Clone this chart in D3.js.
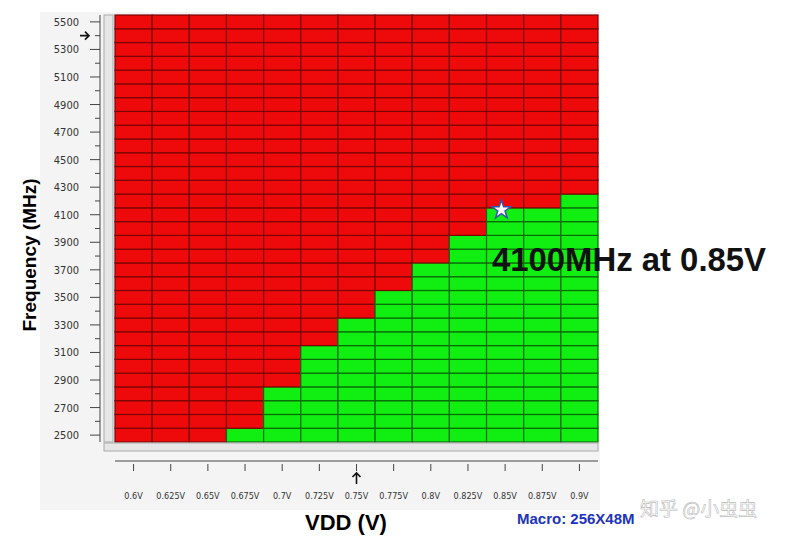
<!DOCTYPE html>
<html><head><meta charset="utf-8">
<script src="https://cdn.jsdelivr.net/npm/d3@7"></script>
<style>body{margin:0;background:#fff}</style></head>
<body><svg id="c" width="808" height="540"></svg>
<script>
const voltages=["0.6V","0.625V","0.65V","0.675V","0.7V","0.725V","0.75V","0.775V","0.8V","0.825V","0.85V","0.875V","0.9V"];
const passMax=[0,0,0,2500,2800,3100,3300,3500,3700,3900,4100,4100,4200];
const freqs=d3.range(2500,5501,100);
const yLabels=d3.range(2500,5501,200);

const svg=d3.select("#c");
svg.append("rect").attr("x",0).attr("y",0).attr("width",600).attr("height",510).attr("fill","#f4f4f4");
svg.append("rect").attr("x",0).attr("y",0).attr("width",808).attr("height",12).attr("fill","#fff");
svg.append("rect").attr("x",0).attr("y",0).attr("width",40).attr("height",540).attr("fill","#fff");
svg.append("rect").attr("x",0).attr("y",510).attr("width",808).attr("height",30).attr("fill","#fff");
const L=115,R=598,T=15,B=442;
const x=d3.scaleBand().domain(voltages).range([L,R]);
const y=d3.scaleBand().domain(freqs).range([B,T]);
const cells=[];
voltages.forEach((v,i)=>freqs.forEach(f=>cells.push({v,f,pass:f<=passMax[i]})));
svg.append("g").selectAll("rect").data(cells).join("rect")
 .attr("x",d=>x(d.v)).attr("y",d=>y(d.f)).attr("width",x.bandwidth()).attr("height",y.bandwidth())
 .attr("fill",d=>d.pass?"#11ee11":"#ee0a0a").attr("stroke",d=>d.pass?"#0a6a0a":"#7a0505").attr("stroke-width",1.2);
svg.append("rect").attr("x",104).attr("y",T).attr("width",9).attr("height",B-T).attr("fill","#e6e6e6").attr("stroke","#aaa");
svg.append("rect").attr("x",104).attr("y",B+1).attr("width",R-104).attr("height",8).attr("fill","#e6e6e6").attr("stroke","#aaa");
const ya=svg.append("g");
freqs.forEach(f=>{const yy=y(f)+y.bandwidth()/2;
 ya.append("line").attr("x1",yLabels.includes(f)?90:95).attr("x2",100).attr("y1",yy).attr("y2",yy).attr("stroke","#444");});
ya.append("line").attr("x1",100).attr("x2",100).attr("y1",T).attr("y2",B).attr("stroke","#444");
yLabels.forEach(f=>ya.append("text").attr("x",79).attr("y",y(f)+y.bandwidth()/2+4).attr("text-anchor","end")
 .attr("font-family","DejaVu Sans Condensed, DejaVu Sans").attr("font-size",11).attr("fill","#333").text(f));
svg.append("path").attr("d",`M80,${y(5400)+y.bandwidth()/2}h9m-4,-4l4,4l-4,4`).attr("fill","none").attr("stroke","#111").attr("stroke-width",1.6);
svg.append("text").attr("transform","translate(36,255) rotate(-90)").attr("text-anchor","middle")
 .attr("font-family","Liberation Sans, Arial").attr("font-weight","bold").attr("font-size",19).text("Frequency (MHz)");
const xa=svg.append("g");
xa.append("line").attr("x1",115).attr("x2",598).attr("y1",461).attr("y2",461).attr("stroke","#444");
voltages.forEach(v=>{const xx=x(v)+x.bandwidth()/2;
 xa.append("line").attr("x1",xx).attr("x2",xx).attr("y1",464).attr("y2",471).attr("stroke","#444");
 xa.append("text").attr("x",xx).attr("y",499).attr("text-anchor","middle").attr("font-family","DejaVu Sans Condensed, DejaVu Sans")
  .attr("font-size",9).attr("fill","#333").text(v);});
const ax=x("0.75V")+x.bandwidth()/2;
svg.append("path").attr("d",`M${ax},484v-11m-4,4l4,-4l4,4`).attr("fill","none").attr("stroke","#111").attr("stroke-width",1.6);
svg.append("text").attr("x",346).attr("y",530).attr("text-anchor","middle").attr("font-family","Liberation Sans, Arial")
 .attr("font-weight","bold").attr("font-size",22).text("VDD (V)");
const sx=x("0.85V")+x.bandwidth()*0.4, sy=y(4100)+2;
const star=d3.symbol().type(d3.symbolStar).size(110);
svg.append("path").attr("d",star()).attr("transform",`translate(${sx},${sy})`).attr("fill","#fff").attr("stroke","#3355aa").attr("stroke-width",1.5);
svg.append("text").attr("x",492).attr("y",271).attr("font-family","Liberation Sans Narrow, Liberation Sans").attr("font-weight","bold")
 .attr("font-size",33).attr("textLength",274).attr("lengthAdjust","spacingAndGlyphs").attr("fill","#111").text("4100MHz at 0.85V");
svg.append("text").attr("x",517).attr("y",524).attr("font-family","Liberation Sans, Arial").attr("font-weight","bold")
 .attr("font-size",15).attr("fill","#2233bb").text("Macro: 256X48M");
svg.append("text").attr("x",640).attr("y",516).attr("font-family","Noto Sans CJK SC").attr("font-size",19).attr("fill","#fff")
 .attr("stroke","#bbb").attr("stroke-width",0.6).text("知乎 @小虫虫");
</script></body></html>
